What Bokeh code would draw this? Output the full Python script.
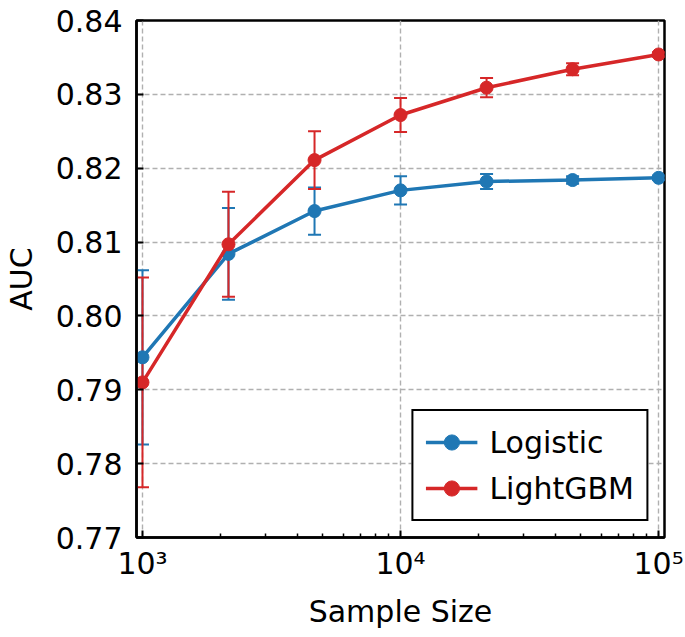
from bokeh.plotting import figure
from bokeh.models import (Range1d, FixedTicker, ColumnDataSource, Whisker, TeeHead,
                          Legend, LegendItem, PrintfTickFormatter)
from bokeh.embed import file_html
from bokeh.resources import INLINE

sizes = [1000, 2154, 4642, 10000, 21544, 46416, 100000]
logistic = [0.7944, 0.8084, 0.8142, 0.8170, 0.8182, 0.8184, 0.8187]
logistic_err = [0.0118, 0.0062, 0.0032, 0.0019, 0.0010, 0.0005, 0.0003]
lgbm = [0.7910, 0.8097, 0.8211, 0.8272, 0.8309, 0.8334, 0.8354]
lgbm_err = [0.0142, 0.0071, 0.0039, 0.0023, 0.0013, 0.0008, 0.0003]

y_ticks = [0.77, 0.78, 0.79, 0.80, 0.81, 0.82, 0.83, 0.84]
x_ticks = [1000, 10000, 100000]
x_tick_labels = {1000: "10\u00b3", 10000: "10\u2074", 100000: "10\u2075"}

BLUE = "#1f77b4"
RED = "#d62728"
FONT = "DejaVu Sans"

p = figure(x_axis_type="log", output_backend="svg", toolbar_location=None,
           frame_width=528, frame_height=517,
           min_border_left=120, min_border_right=21, min_border_top=20, min_border_bottom=84,
           x_range=Range1d(948, 105400), y_range=Range1d(0.77, 0.84),
           background_fill_color="white", border_fill_color="white")

p.outline_line_color = "black"
p.outline_line_width = 2.5

minor = [m * d for d in (1000, 10000) for m in range(2, 10)]
p.xaxis.ticker = FixedTicker(ticks=x_ticks, minor_ticks=minor)
p.xaxis.major_label_overrides = x_tick_labels
p.yaxis.ticker = FixedTicker(ticks=y_ticks, minor_ticks=[])
p.yaxis.formatter = PrintfTickFormatter(format="%.2f")

for ax in (p.xaxis, p.yaxis):
    ax.axis_line_color = "black"
    ax.axis_line_width = 2.5
    ax.major_tick_in = 7
    ax.major_tick_out = 0
    ax.major_tick_line_width = 2
    ax.minor_tick_in = 4
    ax.minor_tick_out = 0
    ax.minor_tick_line_width = 1.5
    ax.major_label_text_font = FONT
    ax.major_label_text_font_size = "30px"
    ax.major_label_text_color = "black"
    ax.axis_label_text_font = FONT
    ax.axis_label_text_font_size = "30px"
    ax.axis_label_text_font_style = "normal"
    ax.axis_label_text_color = "black"

p.xaxis.axis_label = "Sample Size"
p.yaxis.axis_label = "AUC"
p.xaxis.major_label_standoff = 8
p.yaxis.major_label_standoff = 14
p.xaxis.axis_label_standoff = 10
p.yaxis.axis_label_standoff = 14

for g in (p.xgrid, p.ygrid):
    g.grid_line_color = "#b0b0b0"
    g.grid_line_dash = "5 3"
    g.grid_line_width = 1.4
p.xgrid.ticker = FixedTicker(ticks=x_ticks)
p.ygrid.ticker = FixedTicker(ticks=y_ticks)

items = []
for vals, errs, color, name in ((logistic, logistic_err, BLUE, "Logistic"),
                                (lgbm, lgbm_err, RED, "LightGBM")):
    src = ColumnDataSource(dict(x=sizes, y=vals,
                                lo=[v - e for v, e in zip(vals, errs)],
                                hi=[v + e for v, e in zip(vals, errs)]))
    w = Whisker(source=src, base="x", upper="hi", lower="lo", dimension="height",
                line_color=color, line_width=2,
                upper_head=TeeHead(size=13, line_color=color, line_width=2),
                lower_head=TeeHead(size=13, line_color=color, line_width=2))
    p.add_layout(w)
    ln = p.line("x", "y", source=src, line_color=color, line_width=3.5)
    sc = p.scatter("x", "y", source=src, size=13, fill_color=color, line_color=color)
    items.append(LegendItem(label=name, renderers=[ln, sc]))

legend = Legend(items=items, location="bottom_right")
legend.label_text_font = FONT
legend.label_text_font_size = "30px"
legend.label_text_color = "black"
legend.border_line_color = "black"
legend.border_line_width = 2
legend.border_line_alpha = 1
legend.background_fill_alpha = 1
legend.glyph_width = 52
legend.glyph_height = 38
legend.label_height = 38
legend.spacing = 8
legend.padding = 12
legend.margin = 16
legend.label_standoff = 12
p.add_layout(legend)

open("out.html", "w").write(file_html(p, INLINE))
